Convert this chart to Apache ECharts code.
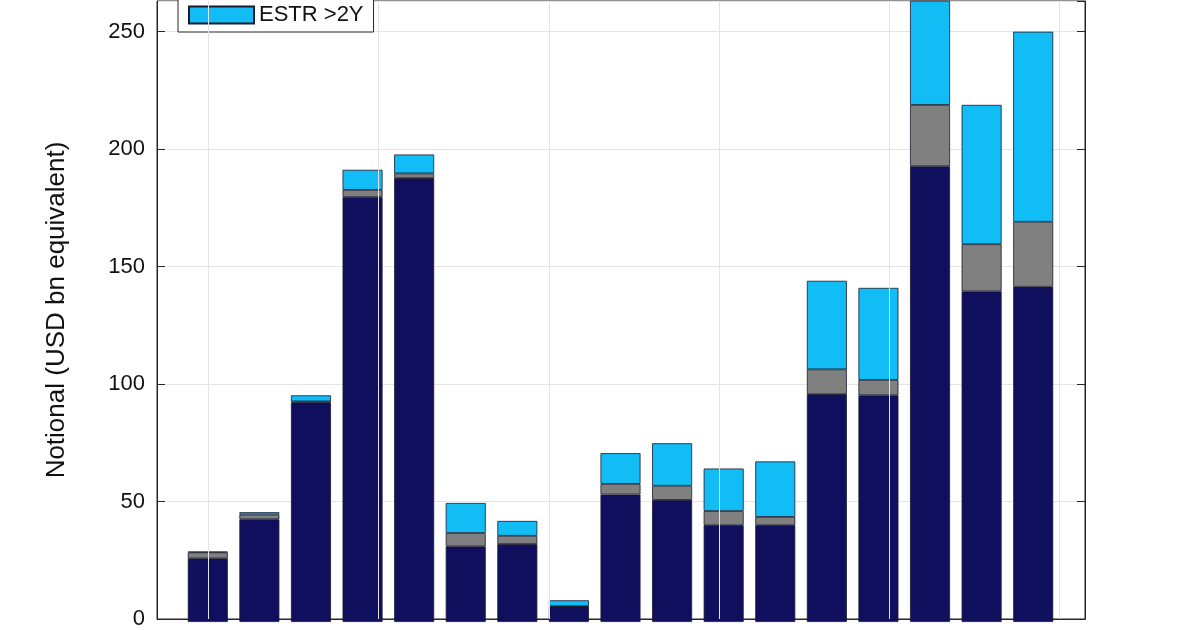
<!DOCTYPE html><html><head><meta charset="utf-8">
<script src="https://cdn.jsdelivr.net/npm/echarts@6/dist/echarts.min.js"></script>
<style>html,body{margin:0;padding:0;background:#fff}#c{width:1200px;height:630px}</style></head><body><div id="c"></div>
<script>
const categories = ['1','2','3','4','5','6','7','8','9','10','11','12','13','14','15','16','17'];
const shortTenor = [27,43.5,93,180,188,32,33,6.5,54,51.7,41,41,96.5,96,193,140,142];
const midTenor = [2.5,2,0.4,3,2,5.7,3.5,0.2,4.5,6,6,3.5,10.5,6.5,26,20,27.5];
const longTenor = [0.3,1,2.6,8.5,8,12.7,6.3,2.5,13,18,18,23.5,37.5,39,46,59,80.5];
const seriesNames = ['ESTR <1Y','ESTR 1-2Y','ESTR >2Y'];
const yTicks = [0,50,100,150,200,250];
const xGridLines = [1,4.3,7.6,10.9,14.2,17.5];

const chart = echarts.init(document.getElementById('c'));
const font = 'Liberation Sans, Arial, sans-serif';
const colors = ['#0f0f5e','#808080','#12bdf5'];
const data = [shortTenor, midTenor, longTenor];
const YMAX = 263;
const series = data.map((arr,i)=>({
  name: seriesNames[i], type:'bar', stack:'s', barWidth:40, xAxisIndex:1, yAxisIndex:2,
  itemStyle:{color:colors[i], borderColor:'#1a1a2e', borderWidth:0.8},
  data: arr, z: 3
}));
series.push({type:'line', xAxisIndex:0, yAxisIndex:0, data:[], silent:true,
  markLine:{silent:true, symbol:'none', label:{show:false}, animation:false,
    lineStyle:{color:'#e4e4e4', type:'solid', width:1},
    data: xGridLines.map(x=>({xAxis:x}))}});
chart.setOption({
  animation:false,
  textStyle:{fontFamily:font},
  grid:[{left:157, right:115, top:1, bottom:8, show:true, borderColor:'#262626', borderWidth:1},
        {left:182, right:141, top:1, bottom:8}],
  legend:{data:['ESTR >2Y'], orient:'vertical', left:178, top:-2, itemWidth:65, itemHeight:17,
    padding:[6,10], borderColor:'#262626', borderWidth:1, backgroundColor:'#fff',
    textStyle:{fontSize:22, color:'#111', fontFamily:font}, icon:'rect'},
  xAxis:[{type:'value', gridIndex:0, min:0, max:18, axisLabel:{show:false}, axisTick:{show:false},
    splitLine:{show:false}, axisLine:{lineStyle:{color:'#262626'}}},
    {type:'category', gridIndex:1, data:categories, show:false}],
  yAxis:[{type:'value', gridIndex:0, min:0, max:YMAX, interval:50,
    name:'Notional (USD bn equivalent)', nameLocation:'middle', nameGap:87,
    nameTextStyle:{fontSize:26, color:'#111', fontFamily:font},
    axisLabel:{fontSize:22, color:'#111', margin:12, showMaxLabel:false},
    axisTick:{inside:true, length:8, lineStyle:{color:'#262626'}},
    axisLine:{show:true, lineStyle:{color:'#262626'}},
    splitLine:{lineStyle:{color:'#e4e4e4'}}},
   {type:'value', gridIndex:0, min:0, max:YMAX, interval:50, position:'right',
    axisLabel:{show:false}, axisTick:{inside:true, length:8, lineStyle:{color:'#262626'}},
    axisLine:{show:true, lineStyle:{color:'#262626'}}, splitLine:{show:false}},
   {type:'value', gridIndex:1, min:0, max:YMAX, show:false, splitLine:{show:false}}],
  series
});
</script></body></html>
